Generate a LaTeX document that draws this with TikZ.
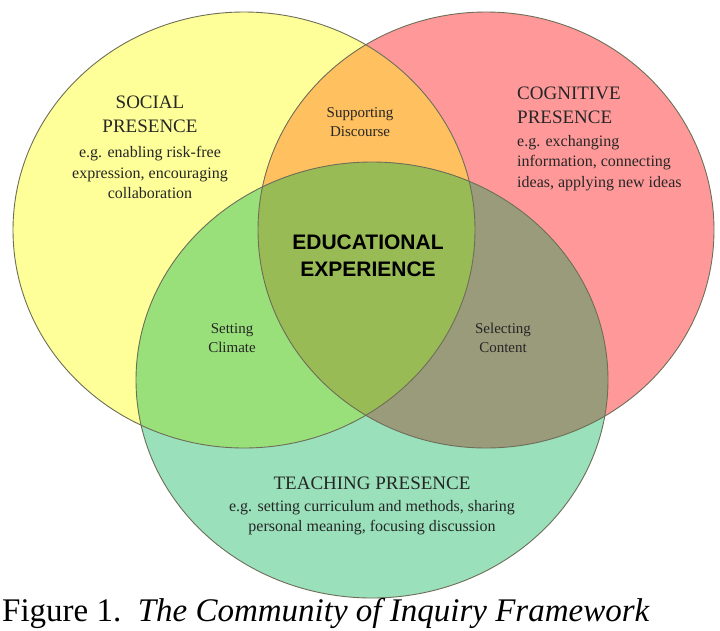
\documentclass[tikz,border=0pt]{standalone}
\usepackage{fontspec}
\setmainfont{Liberation Serif}
\newfontfamily\arialfont{Liberation Sans}
\usepackage{tikz}
\usetikzlibrary{positioning}

\definecolor{socyellow}{HTML}{FFFF99}
\definecolor{cogpink}{HTML}{FF9999}
\definecolor{teagreen}{HTML}{99E0BB}
\definecolor{suporange}{HTML}{FFC060}
\definecolor{climgreen}{HTML}{99E07A}
\definecolor{selolive}{HTML}{999B7A}
\definecolor{edugreen}{HTML}{99BB55}
\definecolor{rimgrey}{HTML}{6E6E58}

\begin{document}
\begin{tikzpicture}[x=1pt, y=-1pt,
    rim/.style={draw=rimgrey, line width=0.9pt},
    head/.style={font=\fontsize{19}{24}\selectfont, align=center, inner sep=0pt, text=black!85},
    descr/.style={font=\fontsize{16}{20.5}\selectfont, align=center, inner sep=0pt, text=black!85},
    small/.style={font=\fontsize{15}{19}\selectfont, align=center, inner sep=0pt, text=black!85},
    core/.style={font=\arialfont\bfseries\fontsize{21}{27}\selectfont, align=center, inner sep=0pt},
    caption/.style={font=\fontsize{33}{38}\selectfont, inner sep=0pt}]
    \useasboundingbox (0,0) rectangle (720,630);
    \fill[white] (0,0) rectangle (720,630);
    \def\socpath{(244,230) ellipse [x radius=231, y radius=218]}
    \def\cogpath{(486,230) ellipse [x radius=228, y radius=218]}
    \def\teapath{(372,380) ellipse [x radius=236, y radius=218]}
    \fill[socyellow] \socpath;
    \fill[cogpink] \cogpath;
    \fill[teagreen] \teapath;
    \begin{scope}
        \clip \socpath;
        \fill[suporange] \cogpath;
        \fill[climgreen] \teapath;
    \end{scope}
    \begin{scope}
        \clip \cogpath;
        \fill[selolive] \teapath;
    \end{scope}
    \begin{scope}
        \clip \socpath;
        \clip \cogpath;
        \fill[edugreen] \teapath;
    \end{scope}
    \draw[rim] \socpath;
    \draw[rim] \cogpath;
    \draw[rim] \teapath;

    \node[head, anchor=north] (soc) at (150,96) {SOCIAL\\PRESENCE};
    \node[descr, below=13pt of soc] (socx) {e.g. enabling risk-free\\expression, encouraging\\collaboration};
    \node[head, align=left, anchor=north west] (cog) at (517,87) {COGNITIVE\\PRESENCE};
    \node[descr, align=left, below right=11pt and 0pt of cog.south west] (cogx) {e.g. exchanging\\information, connecting\\ideas, applying new ideas};
    \node[small, anchor=north] (sup) at (360,107) {Supporting\\Discourse};
    \node[core, anchor=north] (edu) at (368,235) {EDUCATIONAL\\EXPERIENCE};
    \node[small, anchor=north] (clim) at (232,323) {Setting\\Climate};
    \node[small, anchor=north] (sel) at (503,323) {Selecting\\Content};
    \node[head, anchor=north] (tea) at (372,477) {TEACHING PRESENCE};
    \node[descr, below=10pt of tea] (teax) {e.g. setting curriculum and methods, sharing\\personal meaning, focusing discussion};
    \node[caption, anchor=base west] (fig) at (2,621) {Figure 1.\ \ \textit{The Community of Inquiry Framework}};
\end{tikzpicture}
\end{document}
